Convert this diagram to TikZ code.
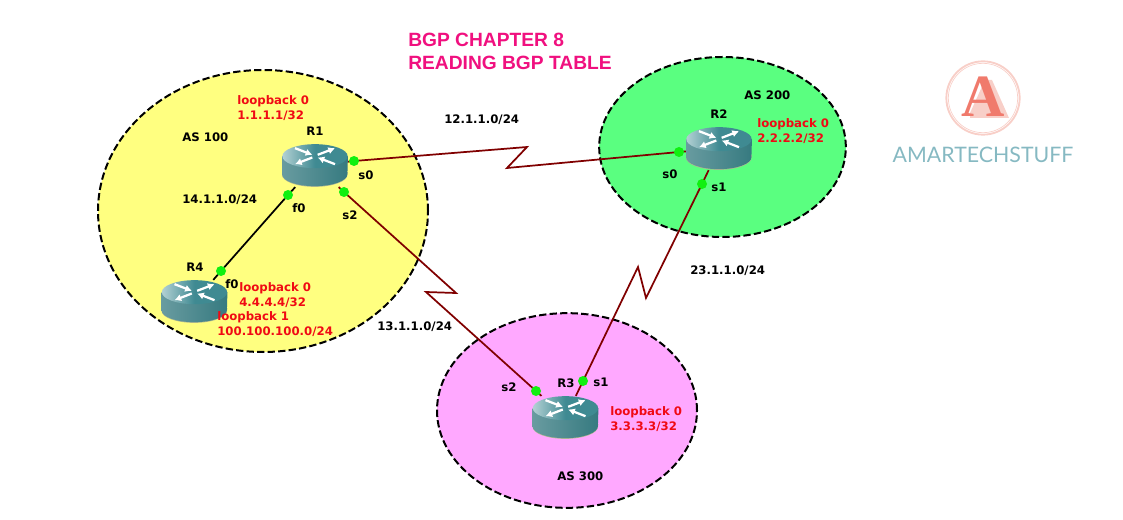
\documentclass[tikz,border=0pt]{standalone}
\usepackage{fontspec}
\usepackage{xcolor}
\setmainfont{DejaVu Sans}
\newfontfamily\titlefont{Liberation Sans}
\newfontfamily\logofont{Lato}
\newfontfamily\slabfont{Liberation Serif}
\usetikzlibrary{positioning, calc, shapes.geometric, arrows.meta, backgrounds}
\definecolor{asyellow}{HTML}{FFFF80}
\definecolor{asgreen}{HTML}{5AFF80}
\definecolor{aspink}{HTML}{FFA8FF}
\definecolor{linkred}{HTML}{800000}
\definecolor{dotgreen}{HTML}{10F010}
\definecolor{looptext}{HTML}{F00A14}
\definecolor{titlepink}{HTML}{F0107F}
\definecolor{routertop}{HTML}{3F8A92}
\definecolor{routerside}{HTML}{367A80}
\definecolor{routeredge}{HTML}{B0B890}
\definecolor{logored}{HTML}{F07A6C}
\definecolor{logoring}{HTML}{F8CFC8}
\definecolor{logotext}{HTML}{86B9C2}
\tikzset{
        asarea/.style={ellipse,draw,inner sep=0pt,line width=1.5pt,dash pattern=on 5.5pt off 2.4pt},
        port/.style={circle,fill=dotgreen,inner sep=0pt,minimum size=7.5pt},
        routerbox/.style={inner sep=0pt,minimum width=49pt,minimum height=32pt},
        label/.style={font=\bfseries\fontsize{8.8}{11.25}\selectfont,inner sep=0pt,align=left,text=black},
        loop/.style={label,text=looptext},
        link/.style={linkred,line width=1.3pt},
        routerarrow/.style={white,line width=1.7pt,-{Latex[length=5pt,width=5.5pt]}},
}
\newcommand{\router}[1]{%
        \fill[routeredge] ($(#1.west)+(0,-5pt)$) -- ($(#1.west)+(0,-7pt)$) arc[start angle=180,end angle=360,x radius=24.5pt,y radius=9pt] -- ($(#1.east)+(0,-5pt)$) -- cycle;
        \shade[left color=routerside!75!white,right color=routerside] ($(#1.west)+(0,7pt)$) -- ($(#1.west)+(0,-6.5pt)$) arc[start angle=180,end angle=360,x radius=24.5pt,y radius=9pt] -- ($(#1.east)+(0,7pt)$) -- cycle;
        \shade[left color=routertop!40!white,right color=routertop,middle color=routertop] ($(#1.center)+(0,7pt)$) ellipse[x radius=24.5pt,y radius=9pt];
        \draw[routerarrow] ($(#1.center)+(-15pt,13pt)$) -- ($(#1.center)+(-2pt,8pt)$);
        \draw[routerarrow] ($(#1.center)+(2pt,8pt)$) -- ($(#1.center)+(15pt,13pt)$);
        \draw[routerarrow] ($(#1.center)+(-2pt,6pt)$) -- ($(#1.center)+(-15pt,1pt)$);
        \draw[routerarrow] ($(#1.center)+(15pt,1pt)$) -- ($(#1.center)+(2pt,6pt)$);
}
\begin{document}
\begin{tikzpicture}[x=0.75pt,y=-0.75pt]
        \useasboundingbox (0,0) rectangle (1123,520);
        \begin{scope}[on background layer]
                \node[asarea,fill=asyellow,minimum width=247.5pt,minimum height=211.5pt] (as100) at (263,211) {};
                \node[asarea,fill=asgreen,minimum width=185pt,minimum height=135pt] (as200) at (722.5,147) {};
                \node[asarea,fill=aspink,minimum width=195pt,minimum height=146pt] (as300) at (567,410.5) {};
        \end{scope}

        \node[routerbox] (R1) at (315,165.5) {};
        \node[routerbox] (R2) at (719,148.5) {};
        \node[routerbox] (R3) at (565.5,417.5) {};
        \node[routerbox] (R4) at (194.5,301.5) {};
        \router{R1}
        \router{R2}
        \router{R3}
        \router{R4}

        \node[port] (r1s0) at (354,161) {};
        \node[port] (r1f0) at (288,195) {};
        \node[port] (r1s2) at (344,192) {};
        \node[port] (r2s0) at (679,152) {};
        \node[port] (r2s1) at (702,184) {};
        \node[port] (r3s1) at (583,381) {};
        \node[port] (r3s2) at (536,391) {};
        \node[port] (r4f0) at (221,271) {};

        \coordinate (z12a) at (527,147);
        \coordinate (z12b) at (507,168);
        \coordinate (z23a) at (646,298);
        \coordinate (z23b) at (638,267);
        \coordinate (z13a) at (456,293);
        \coordinate (z13b) at (426,292);

        \begin{scope}[on background layer]
                \draw[link] (R1) -- (r1s0.center) -- (z12a) -- (z12b) -- (r2s0.center) -- (R2);
                \draw[link] (R2) -- (r2s1.center) -- (z23a) -- (z23b) -- (r3s1.center) -- (R3);
                \draw[link] (R1) -- (r1s2.center) -- (z13a) -- (z13b) -- (r3s2.center) -- (R3);
                \draw[line width=1.3pt] (R1) -- (r1f0.center) -- (r4f0.center) -- (R4);
        \end{scope}

        \node[anchor=west,inner sep=0pt,align=left,text=titlepink,font=\titlefont\bfseries\fontsize{14.4}{17.25}\selectfont] (title) at (408,51.5) {BGP CHAPTER 8\\READING BGP TABLE};

        \node[label,anchor=west] (as100text) at (182,137) {AS 100};
        \node[label,anchor=west] (as200text) at (744,95) {AS 200};
        \node[label,anchor=west] (as300text) at (557,476) {AS 300};

        \node[label,anchor=west] (r1name) at (306,131) {R1};
        \node[label,anchor=west] (r2name) at (710,114) {R2};
        \node[label,anchor=west] (r3name) at (557,383) {R3};
        \node[label,anchor=west] (r4name) at (186,267) {R4};

        \node[label,anchor=west] (net12) at (444,120) {12.1.1.0/24};
        \node[label,anchor=west] (net14) at (182,200) {14.1.1.0/24};
        \node[label,anchor=west] (net13) at (377,327) {13.1.1.0/24};
        \node[label,anchor=west] (net23) at (690,271) {23.1.1.0/24};

        \node[label,anchor=west] (s0r1) at (358,175) {s0};
        \node[label,anchor=west] (f0r1) at (292,208) {f0};
        \node[label,anchor=west] (s2r1) at (342,215) {s2};
        \node[label,anchor=west] (s0r2) at (662,174) {s0};
        \node[label,anchor=west] (s1r2) at (711,187) {s1};
        \node[label,anchor=west] (s1r3) at (593,382) {s1};
        \node[label,anchor=west] (s2r3) at (501,387) {s2};
        \node[label,anchor=west] (f0r4) at (225,284) {f0};

        \node[loop,anchor=west] (lo1) at (237,108) {loopback 0\\1.1.1.1/32};
        \node[loop,anchor=west] (lo2) at (757,131) {loopback 0\\2.2.2.2/32};
        \node[loop,anchor=west] (lo3) at (610,419) {loopback 0\\3.3.3.3/32};
        \node[loop,anchor=west] (lo40) at (239,295) {loopback 0\\4.4.4.4/32};
        \node[loop,anchor=west] (lo41) at (217,324) {loopback 1\\100.100.100.0/24};

        \node[circle,draw=logoring,line width=1.4pt,minimum size=55pt,inner sep=0pt] (logo) at (983,98) {};
        \node[circle,draw=logoring,line width=.5pt,minimum size=52pt,inner sep=0pt] (logoin) at (983,98) {};
        \fill[logoring] (985,80) -- (992,80) -- (1009,118) -- (970,118) -- (970,113) -- cycle;
        \node[text=logored,font=\slabfont\bfseries\fontsize{45}{45}\selectfont,inner sep=0pt] (logoletter) at (983,97) {A};
        \node[text=logotext,font=\logofont\fontsize{16}{18}\selectfont,inner sep=0pt] (logoname) at (983,155) {AMARTECHSTUFF};
\end{tikzpicture}
\end{document}
